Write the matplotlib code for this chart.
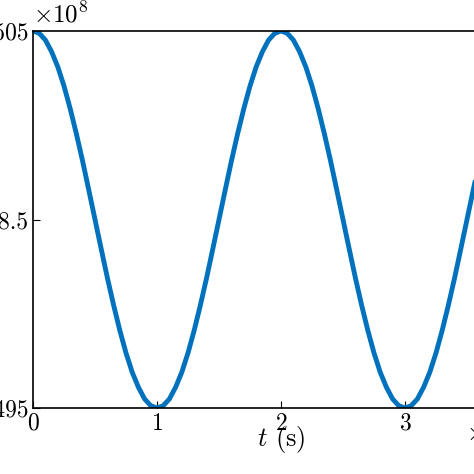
import numpy as np
import matplotlib.pyplot as plt

plt.rcParams['font.family'] = 'cmr10'
plt.rcParams['mathtext.fontset'] = 'cm'
plt.rcParams['axes.formatter.use_mathtext'] = True

# value (x1e8), every 0.05 s
fall = [8.50500, 8.50494, 8.50476, 8.50445, 8.50405, 8.50354, 8.50294, 8.50227, 8.50155, 8.50078,
        8.50000, 8.49922, 8.49845, 8.49773, 8.49706, 8.49646, 8.49595, 8.49555, 8.49524, 8.49506]
rise = fall[::-1]
y = fall + [8.49500] + rise[:-1] + fall + [8.49500] + rise[:-1] + [8.50500]
t = [0.05 * i for i in range(len(y))]
yticks = [8.495, 8.5, 8.505]
ylabels = ['8.495', '8.5', '8.505']

fig = plt.figure(figsize=(4.74, 4.74), dpi=100)
ax = fig.add_axes([33/474, 66/474, 496/474, 377/474])
ax.plot(t, y, color='#0072BD', linewidth=3.5, solid_capstyle='round')
ax.set_xlim(0, 4)
ax.set_ylim(8.495, 8.505)
ax.set_xticks([0, 1, 2, 3, 4])
ax.set_yticks(yticks)
ax.set_yticklabels(ylabels)
ax.tick_params(direction='in', labelsize=17, length=5)
ax.set_xlabel(r'$t$ (s)', fontsize=19, labelpad=-8)
for s in ax.spines.values():
    s.set_linewidth(1.2)
fig.text(33/474, 1 - 2/474, r'$\times 10^8$', fontsize=18, va='top', ha='left')
fig.text(466/474, 40/474, r'$\times$', fontsize=18, va='center', ha='left')
fig.savefig('out.png', dpi=100)
